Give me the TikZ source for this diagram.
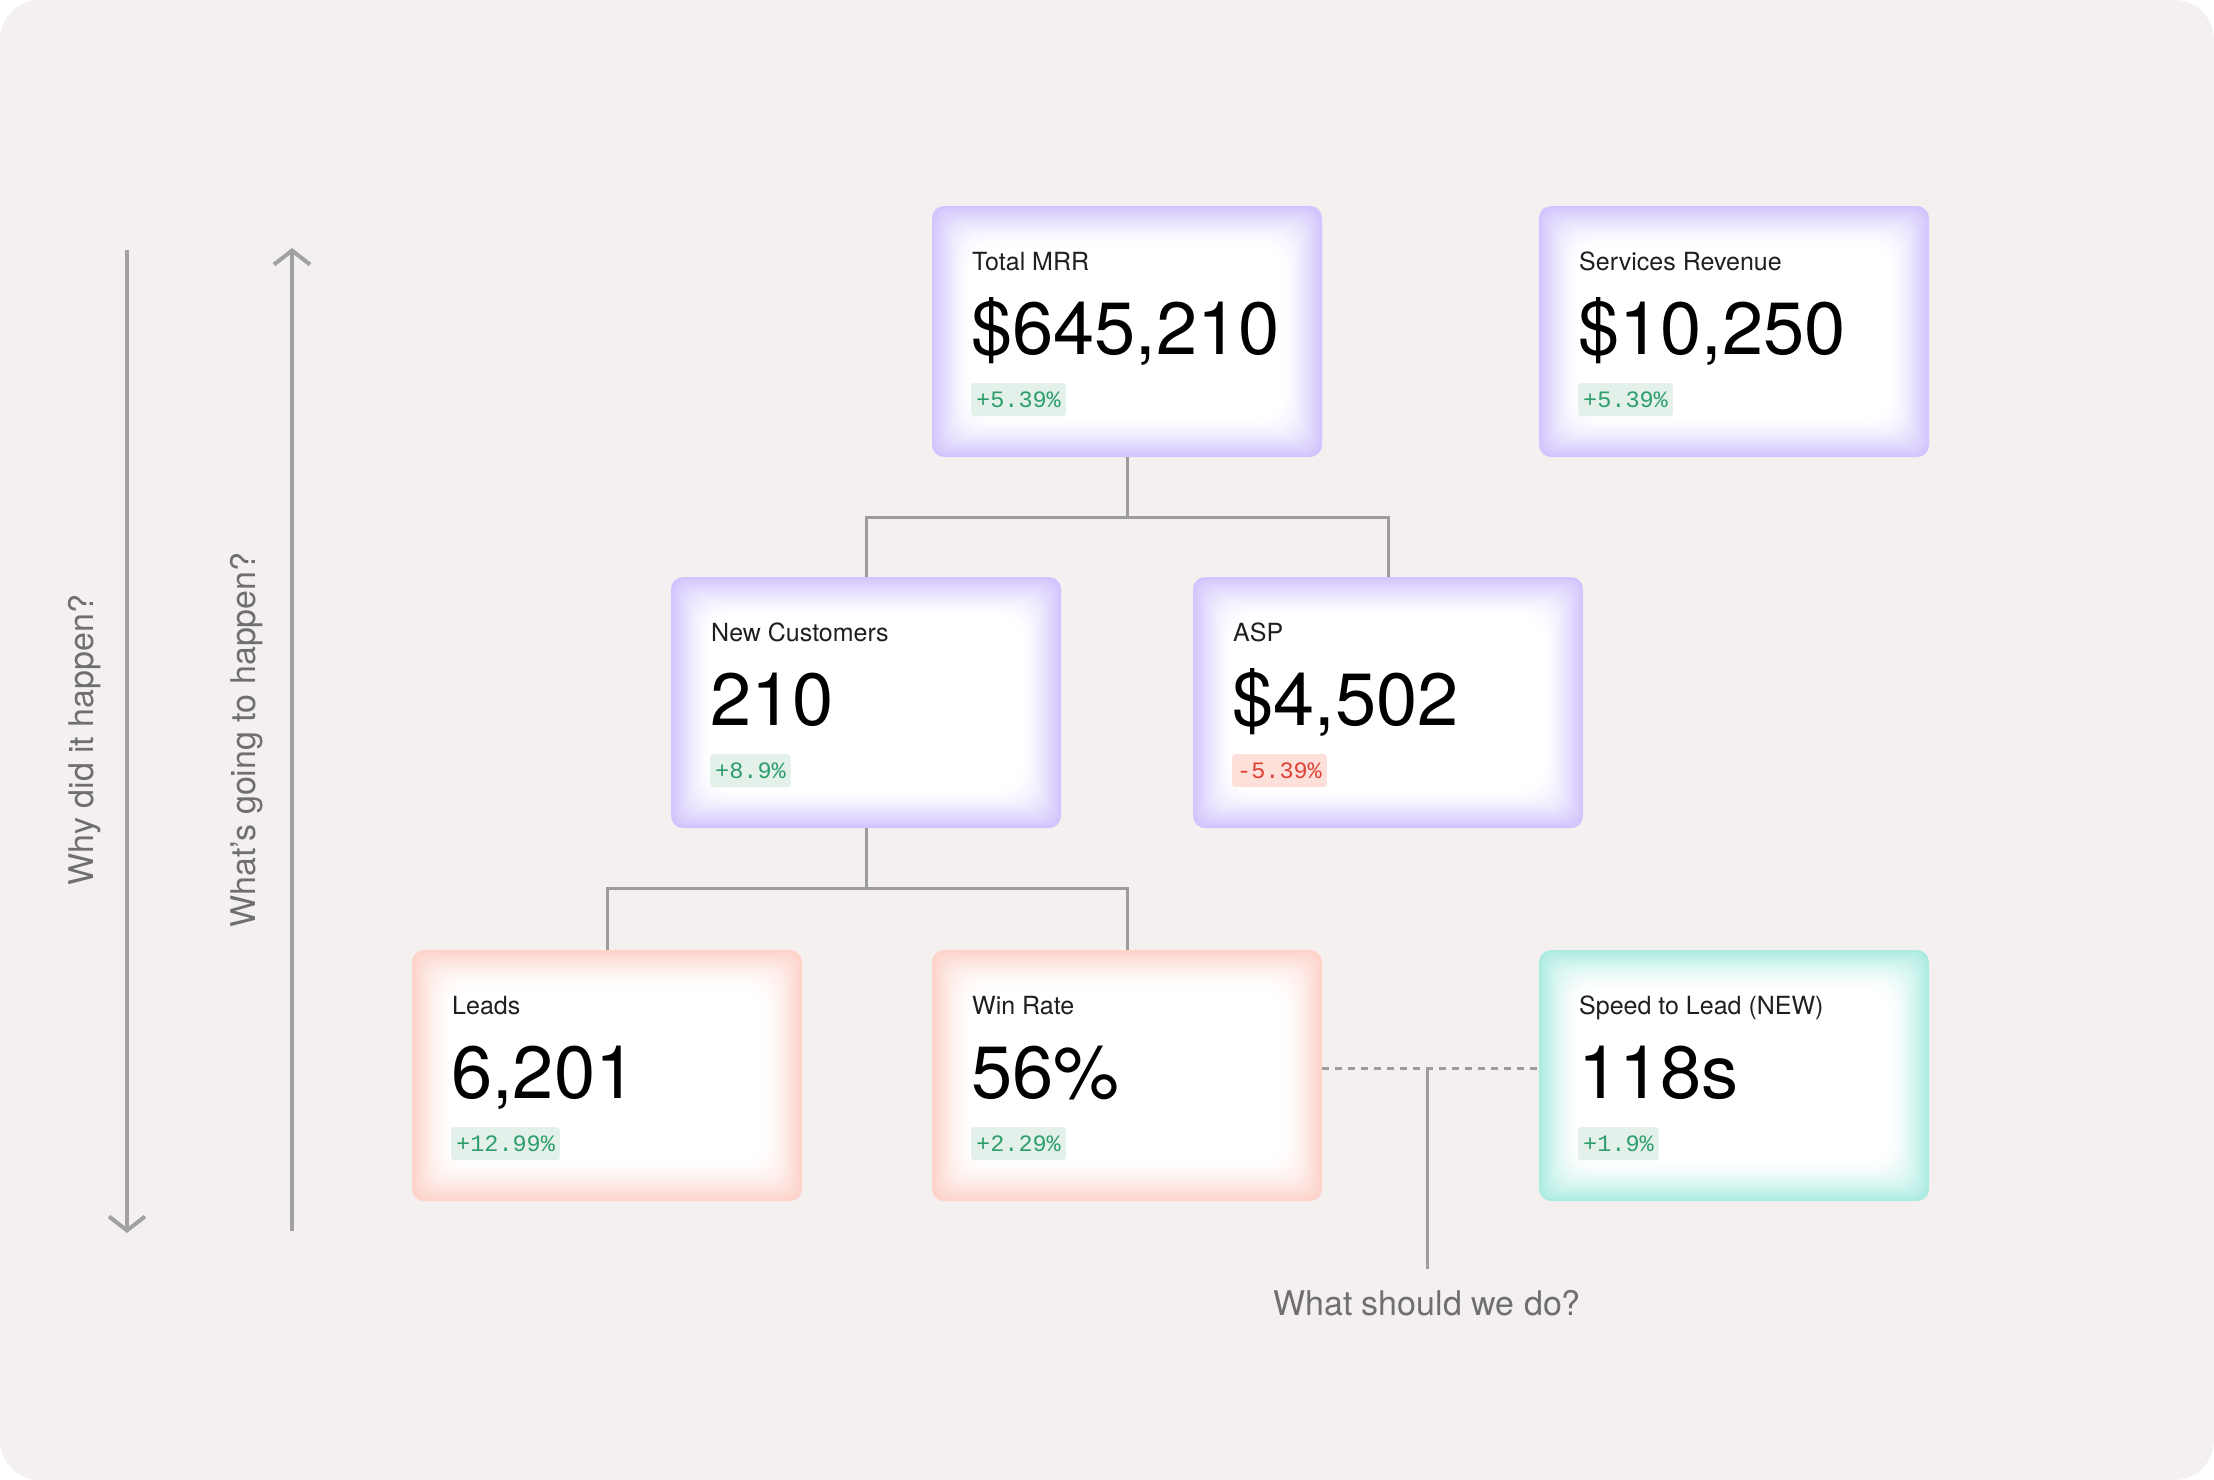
\documentclass[tikz,border=0pt]{standalone}
\usepackage{fontspec}
\setmainfont{TeX Gyre Heros}
\newfontfamily\badgefont{Liberation Mono}
\usetikzlibrary{arrows.meta}
\definecolor{bg}{HTML}{F4F0F0}
\definecolor{lav}{HTML}{D2C4FD}
\definecolor{peach}{HTML}{FDD3CA}
\definecolor{mint}{HTML}{ADEBE1}
\definecolor{linegray}{HTML}{9C9C9C}
\definecolor{txtgray}{HTML}{6F6F6F}
\definecolor{upgreen}{HTML}{2E9E6B}
\definecolor{upbg}{HTML}{E4F1EA}
\definecolor{downred}{HTML}{DE4338}
\definecolor{downbg}{HTML}{FDE0D9}
\tikzset{
  lbl/.style={font=\fontsize{25}{25}\selectfont, text=black!88, inner sep=0pt},
  val/.style={font=\fontsize{74}{74}\selectfont, text=black, inner sep=0pt},
  upbadge/.style={fill=upbg, text=upgreen, font=\badgefont\fontsize{23.5}{23.5}\selectfont, rounded corners=3pt, minimum height=33pt, inner xsep=5pt, inner ysep=0pt},
  downbadge/.style={fill=downbg, text=downred, font=\badgefont\fontsize{23.5}{23.5}\selectfont, rounded corners=3pt, minimum height=33pt, inner xsep=5pt, inner ysep=0pt},
  conn/.style={draw=linegray, line width=3pt},
  dashline/.style={draw=linegray, line width=3pt, dash pattern=on 7pt off 6pt},
  axisarrow/.style={draw=linegray!95, line width=4pt, -{Straight Barb[length=14pt,width=36pt,line width=4pt]}},
  sidetext/.style={font=\fontsize{34}{34}\selectfont, text=txtgray, inner sep=0pt},
}
\newcommand\metriccard[8]{%
  \foreach \i in {0,...,18}{
    \pgfmathtruncatemacro\pct{100*(1-\i/18)^1.5}
    \pgfmathsetmacro\rc{12+\i*0.8}
    \fill[#4!\pct!white, rounded corners=\rc pt] ({#2+\i*2.2},{#3+\i*2.2}) rectangle ({#2+390-\i*2.2},{#3+251-\i*2.2});
  }
  \node[minimum width=390pt, minimum height=251pt, inner sep=0pt, anchor=north west] (#1) at (#2,#3) {};
  \node[lbl, anchor=base west] (#1-l) at (#2+40,#3+64) {#5};
  \node[val, anchor=base west] (#1-v) at (#2+39,#3+148) {#6};
  \node[#8, anchor=north west] (#1-b) at (#2+39,#3+177) {#7};
}
\begin{document}
\begin{tikzpicture}[x=1pt,y=-1pt]
\useasboundingbox (0,0) rectangle (2214,1480);
\fill[white] (0,0) rectangle (2214,1480);
\fill[bg, rounded corners=40pt] (0,0) rectangle (2214,1480);

\metriccard{mrr}{932}{206}{lav}{Total MRR}{\$645,210}{+5.39\%}{upbadge}
\metriccard{svc}{1539}{206}{lav}{Services Revenue}{\$10,250}{+5.39\%}{upbadge}
\metriccard{newc}{671}{577}{lav}{New Customers}{210}{+8.9\%}{upbadge}
\metriccard{asp}{1193}{577}{lav}{ASP}{\$4,502}{-5.39\%}{downbadge}
\metriccard{leads}{412}{950}{peach}{Leads}{6,201}{+12.99\%}{upbadge}
\metriccard{win}{932}{950}{peach}{Win Rate}{56\%}{+2.29\%}{upbadge}
\metriccard{speed}{1539}{950}{mint}{Speed to Lead (NEW)}{118s}{+1.9\%}{upbadge}

% tree connectors
\draw[conn] (mrr.south) -- ++(0,60) coordinate (j1);
\draw[conn] (newc.north) |- (j1) -| (asp.north);
\draw[conn] (newc.south) -- ++(0,60) coordinate (j2);
\draw[conn] (leads.north) |- (j2) -| (win.north);

% dashed link and question
\draw[dashline] ([yshift=7pt]win.east) -- ([yshift=7pt]speed.west);
\coordinate (dmid) at (1427,1068);
\node[sidetext, anchor=base] (q) at (1427,1315) {What should we do?};
\draw[conn] (dmid) -- ([yshift=21pt]q.north);

% left axes
\coordinate (a1s) at (127,250);
\coordinate (a1e) at (127,1233);
\coordinate (a2s) at (292,1231);
\coordinate (a2e) at (292,248);
\draw[axisarrow] (a1s) -- (a1e);
\draw[axisarrow] (a2s) -- (a2e);
\node[sidetext, rotate=90] (why) at (85,740) {Why did it happen?};
\node[sidetext, rotate=90] (what) at (247,740) {What's going to happen?};
\end{tikzpicture}
\end{document}
